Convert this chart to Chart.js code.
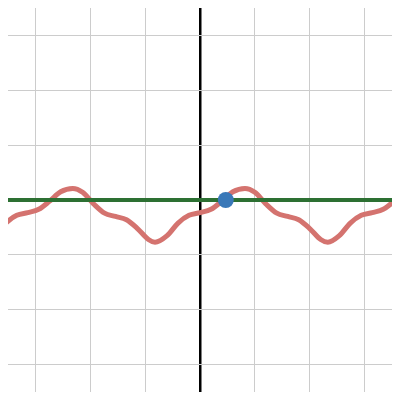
<!DOCTYPE html>
<html><head><meta charset="utf-8">
<script src="https://cdn.jsdelivr.net/npm/chart.js@4"></script>
<style>html,body{margin:0;padding:0;background:#fff}#w{width:400px;height:400px}</style>
</head><body><div id="w"><canvas id="c"></canvas></div>
<script>
const curveX = [-3.74,-3.54,-3.34,-3.14,-2.94,-2.74,-2.54,-2.32,-2.14,-1.94,-1.74,-1.54,-1.34,-1.14,-0.94,-0.82,-0.6,-0.4,-0.2,0,0.2,0.4,0.6,0.82,1.0,1.2,1.4,1.6,1.8,2.0,2.2,2.33,2.54,2.74,2.94,3.14,3.34,3.54,3.74];
const curveY = [-0.65,-0.42,-0.28,-0.23,-0.17,-0.02,0.15,0.21,0.14,-0.07,-0.24,-0.30,-0.36,-0.52,-0.72,-0.77,-0.65,-0.42,-0.28,-0.23,-0.17,-0.02,0.15,0.21,0.14,-0.07,-0.24,-0.30,-0.36,-0.52,-0.72,-0.77,-0.65,-0.42,-0.28,-0.23,-0.17,-0.02,0.15];
const lineX = [-3.5, 3.5];
const lineY = [0, 0];
const pointX = [0.47];
const pointY = [0];
const gridTicks = [-3, -2, -1, 0, 1, 2, 3];
const toPts = (xs, ys) => xs.map((x, i) => ({x, y: ys[i]}));
const grid = {
  color: c => c.tick.value === 0 ? '#000' : '#cccccc',
  lineWidth: c => c.tick.value === 0 ? 2.5 : 1,
  drawTicks: false
};
const axis = {
  type: 'linear', min: -3.5, max: 3.5,
  ticks: { display: false }, grid, border: { display: false },
  afterBuildTicks: s => { s.ticks = gridTicks.map(v => ({value: v})); },
  afterFit: s => { if (s.isHorizontal()) s.height = 0; else s.width = 0; }
};
new Chart(document.getElementById('c'), {
  type: 'scatter',
  data: { datasets: [
    { data: toPts(pointX, pointY), pointRadius: 8, pointBackgroundColor: '#3a78b8', pointBorderWidth: 0, order: 0 },
    { data: toPts(lineX, lineY), showLine: true, borderColor: '#2d7033', borderWidth: 4, pointRadius: 0, order: 1 },
    { data: toPts(curveX, curveY), showLine: true, borderColor: '#d4736f', borderWidth: 5, pointRadius: 0, cubicInterpolationMode: 'monotone', order: 2 }
  ]},
  options: {
    responsive: true, maintainAspectRatio: false, animation: false,
    layout: { padding: 0 },
    plugins: { legend: { display: false }, tooltip: { enabled: false } },
    scales: { x: {...axis}, y: {...axis} }
  }
});
</script></body></html>
